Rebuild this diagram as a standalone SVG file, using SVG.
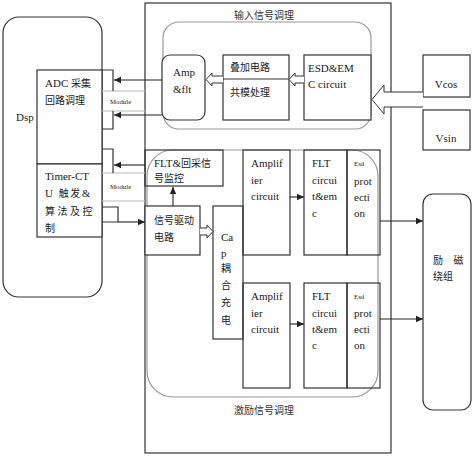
<svg xmlns="http://www.w3.org/2000/svg" width="474" height="457" viewBox="0 0 474 457">
<defs>
<marker id="ah" markerWidth="8" markerHeight="8" refX="7" refY="4" orient="auto" markerUnits="userSpaceOnUse">
<path d="M0,0.8 L7,4 L0,7.2 Z" fill="#222"/>
</marker>
<style>
.b{fill:#fff;stroke:#333;stroke-width:1.2}
.n{fill:none;stroke:#333;stroke-width:1.2}
.g{fill:none;stroke:#999;stroke-width:1.2}
.gl{fill:none;stroke:#bbb;stroke-width:1}
.ln{fill:none;stroke:#222;stroke-width:1.1}
.t{font-family:"Liberation Serif","Noto Sans CJK SC",serif;font-size:11px;fill:#222}
.z{font-size:10px}
.c{font-family:"Liberation Serif","Noto Sans CJK SC",serif;font-size:10px;fill:#333}
.s{font-family:"Liberation Serif",serif;font-size:6.8px;fill:#222}
.ho{fill:#fff;stroke:#333;stroke-width:1}
</style>
</defs>
<rect width="474" height="457" fill="#fff"/>

<g id="outer-box">
<rect class="n" x="145" y="3" width="246" height="450"/>
<text class="c" x="264" y="19" text-anchor="middle">输入信号调理</text>
<text class="c" x="264" y="414" text-anchor="middle">激励信号调理</text>
</g>

<g id="dsp">
<rect class="n" x="3" y="17" width="99" height="280" rx="16"/>
<text class="t" x="16" y="121">Dsp</text>
</g>

<g id="adc">
<rect class="b" x="37" y="70" width="65" height="94"/>
<text class="t" x="45" y="87">ADC <tspan class="z">采集</tspan></text>
<text class="t z" x="45" y="104">回路调理</text>
</g>

<g id="timer">
<rect class="b" x="37" y="164" width="65" height="73"/>
<text class="t" x="45" y="180">Timer-CT</text>
<text class="t" x="45" y="197" letter-spacing="1.5">U <tspan class="z">触发</tspan>&amp;</text>
<text class="t z" x="45" y="215" letter-spacing="2.5">算法及控</text>
<text class="t z" x="45" y="232">制</text>
</g>

<g id="input-region">
<rect class="g" x="163" y="22" width="208" height="107" rx="16"/>
</g>

<g id="ampflt">
<rect class="b" x="162" y="55" width="43" height="65" rx="8"/>
<text class="t" x="173" y="76">Amp</text>
<text class="t" x="173" y="93">&amp;flt</text>
</g>

<g id="superpose">
<rect class="b" x="223" y="55" width="66" height="65"/>
<line class="n" x1="223" y1="79" x2="289" y2="79"/>
<text class="t z" x="230" y="71">叠加电路</text>
<text class="t z" x="230" y="96">共模处理</text>
</g>

<g id="esdemc">
<rect class="b" x="304" y="55" width="67" height="65"/>
<text class="t" x="308" y="72">ESD&amp;EM</text>
<text class="t" x="308" y="88">C circuit</text>
</g>

<g id="vcos">
<rect class="b" x="423" y="55" width="47" height="42"/>
<text class="t" x="446" y="88" text-anchor="middle">Vcos</text>
</g>

<g id="vsin">
<rect class="b" x="423" y="110" width="47" height="40"/>
<text class="t" x="446" y="142" text-anchor="middle">Vsin</text>
</g>

<g id="excite-region">
<rect class="g" x="147" y="150" width="231" height="247" rx="26"/>
</g>

<g id="flt-monitor">
<rect class="n" x="145" y="150" width="78" height="36"/>
<text class="t" x="154" y="167">FLT&amp;<tspan class="z">回采信</tspan></text>
<text class="t z" x="154" y="182">号监控</text>
</g>

<g id="driver">
<rect class="b" x="145" y="206" width="55" height="49"/>
<text class="t z" x="154" y="224">信号驱动</text>
<text class="t z" x="154" y="241">电路</text>
</g>

<g id="cap">
<rect class="b" x="213" y="206" width="30" height="133"/>
<text class="t" x="221" y="241">Ca</text>
<text class="t" x="221" y="257">p</text>
<text class="t z" x="221" y="272">耦</text>
<text class="t z" x="221" y="289">合</text>
<text class="t z" x="221" y="306">充</text>
<text class="t z" x="221" y="324">电</text>
</g>

<g id="amp1">
<rect class="n" x="243" y="150" width="47" height="105"/>
<text class="t" x="251" y="167">Amplif</text>
<text class="t" x="251" y="184">ier</text>
<text class="t" x="251" y="200">circuit</text>
</g>
<g id="flt1">
<rect class="n" x="304" y="150" width="43" height="105"/>
<text class="t" x="312" y="167">FLT</text>
<text class="t" x="312" y="184">circui</text>
<text class="t" x="312" y="200">t&amp;em</text>
<text class="t" x="312" y="217">c</text>
</g>
<g id="esd1">
<rect class="n" x="347" y="150" width="33" height="105"/>
<text class="s" x="354" y="166">Esd</text>
<text class="t" x="354" y="185">prot</text>
<text class="t" x="354" y="201">ecti</text>
<text class="t" x="354" y="217">on</text>
</g>

<g id="amp2">
<rect class="n" x="243" y="283" width="47" height="105"/>
<text class="t" x="251" y="300">Amplif</text>
<text class="t" x="251" y="317">ier</text>
<text class="t" x="251" y="333">circuit</text>
</g>
<g id="flt2">
<rect class="n" x="304" y="283" width="43" height="105"/>
<text class="t" x="312" y="300">FLT</text>
<text class="t" x="312" y="317">circui</text>
<text class="t" x="312" y="333">t&amp;em</text>
<text class="t" x="312" y="349">c</text>
</g>
<g id="esd2">
<rect class="n" x="347" y="283" width="33" height="105"/>
<text class="s" x="354" y="299">Esd</text>
<text class="t" x="354" y="317">prot</text>
<text class="t" x="354" y="333">ecti</text>
<text class="t" x="354" y="349">on</text>
</g>

<g id="winding">
<rect class="b" x="423" y="194" width="48" height="216" rx="10"/>
<text class="t z" x="433" y="264" letter-spacing="4">励 磁</text>
<text class="t z" x="433" y="280">绕组</text>
</g>

<g id="connectors">
<line class="gl" x1="102" y1="91" x2="145" y2="91"/>
<line class="gl" x1="102" y1="111" x2="145" y2="111"/>
<text class="s" x="110" y="104">Module</text>
<line class="gl" x1="102" y1="173" x2="145" y2="173"/>
<line class="gl" x1="102" y1="201" x2="145" y2="201"/>
<text class="s" x="110" y="189">Module</text>
<polyline class="n" points="102,70 113,70 113,91"/>
<polyline class="n" points="113,111 113,129 102,129"/>
<polyline class="n" points="102,149 113,149 113,173"/>
<polyline class="n" points="102,207 118,207 118,222 102,222"/>
<line class="ln" x1="162" y1="80" x2="114" y2="80" marker-end="url(#ah)"/>
<line class="ln" x1="162" y1="115" x2="114" y2="115" marker-end="url(#ah)"/>
<line class="ln" x1="145" y1="165" x2="114" y2="165" marker-end="url(#ah)"/>
<line class="ln" x1="118" y1="222" x2="145" y2="222" marker-end="url(#ah)"/>
<line class="ln" x1="173" y1="206" x2="173" y2="187" marker-end="url(#ah)"/>
<line class="ln" x1="290" y1="197" x2="304" y2="197" marker-end="url(#ah)"/>
<line class="ln" x1="290" y1="324" x2="304" y2="324" marker-end="url(#ah)"/>
<line class="ln" x1="380" y1="221" x2="423" y2="221" marker-end="url(#ah)"/>
<line class="ln" x1="380" y1="319" x2="423" y2="319" marker-end="url(#ah)"/>
<path class="ho" d="M304,76 L295,76 L295,73 L289,79.5 L295,86 L295,83 L304,83"/>
<path class="ho" d="M223,76 L212,76 L212,73 L206,79.5 L212,86 L212,83 L223,83"/>
<path class="ho" d="M200,228 L207,228 L207,225 L213,231.5 L207,238 L207,235 L200,235"/>
<path class="ho" d="M423,92 L384,92 L384,85 L372,99.5 L384,114 L384,107 L423,107"/>
</g>
</svg>
